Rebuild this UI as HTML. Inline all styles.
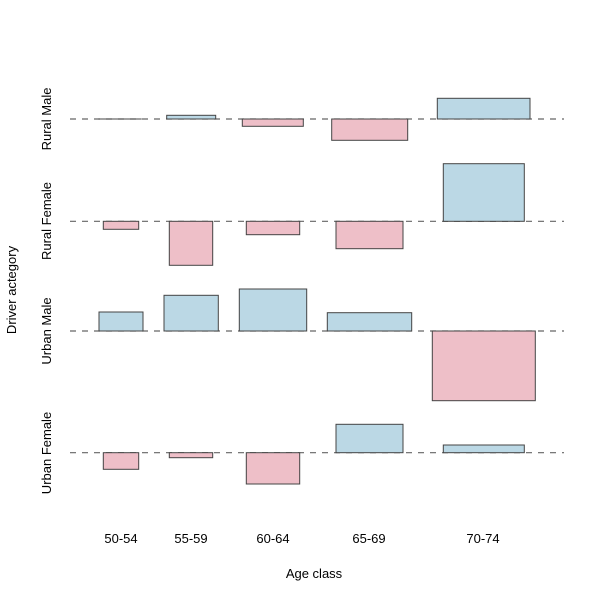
<!DOCTYPE html>
<html><head><meta charset="utf-8"><style>body{margin:0;background:#fff}</style></head>
<body>
<svg width="600" height="600" xmlns="http://www.w3.org/2000/svg" font-family="Liberation Sans, sans-serif" font-size="13" fill="#000">
<g stroke="#666" stroke-width="1.2" stroke-dasharray="6,6">
<line x1="70" y1="119" x2="564" y2="119"/>
<line x1="70" y1="221.3" x2="564" y2="221.3"/>
<line x1="70" y1="331" x2="564" y2="331"/>
<line x1="70" y1="452.7" x2="564" y2="452.7"/>
</g>
<g stroke="#444" stroke-width="1">
<line x1="98.3" y1="119" x2="141.7" y2="119"/>
<rect x="166.7" y="115.3" width="49" height="3.7" fill="#bbd8e5"/>
<rect x="242.3" y="119" width="61" height="7.3" fill="#eebfc8"/>
<rect x="331.7" y="119" width="76" height="21.3" fill="#eebfc8"/>
<rect x="437.3" y="98.3" width="92.7" height="20.7" fill="#bbd8e5"/>

<rect x="103.3" y="221.3" width="35.4" height="8" fill="#eebfc8"/>
<rect x="169.3" y="221.3" width="43.4" height="44" fill="#eebfc8"/>
<rect x="246.3" y="221.3" width="53.4" height="13.4" fill="#eebfc8"/>
<rect x="336" y="221.3" width="67" height="27.4" fill="#eebfc8"/>
<rect x="443.3" y="163.7" width="81" height="57.6" fill="#bbd8e5"/>

<rect x="99" y="312" width="44" height="19" fill="#bbd8e5"/>
<rect x="164" y="295.3" width="54.3" height="35.7" fill="#bbd8e5"/>
<rect x="239.3" y="289" width="67.4" height="42" fill="#bbd8e5"/>
<rect x="327.3" y="312.7" width="84.4" height="18.3" fill="#bbd8e5"/>
<rect x="432.3" y="331" width="103" height="69.7" fill="#eebfc8"/>

<rect x="103.3" y="452.7" width="35.4" height="16.6" fill="#eebfc8"/>
<rect x="169.3" y="452.7" width="43.4" height="5" fill="#eebfc8"/>
<rect x="246.3" y="452.7" width="53.4" height="31.3" fill="#eebfc8"/>
<rect x="336" y="424.3" width="67" height="28.4" fill="#bbd8e5"/>
<rect x="443.3" y="445" width="81" height="7.7" fill="#bbd8e5"/>
</g>
<g text-anchor="middle">
<text x="121" y="543">50-54</text>
<text x="191" y="543">55-59</text>
<text x="273" y="543">60-64</text>
<text x="369" y="543">65-69</text>
<text x="483" y="543">70-74</text>
<text x="314" y="578">Age class</text>
<text transform="translate(51,119) rotate(-90)">Rural Male</text>
<text transform="translate(51,221) rotate(-90)">Rural Female</text>
<text transform="translate(51,331) rotate(-90)">Urban Male</text>
<text transform="translate(51,453) rotate(-90)">Urban Female</text>
<text transform="translate(16,290) rotate(-90)">Driver actegory</text>
</g>
</svg>
</body></html>
